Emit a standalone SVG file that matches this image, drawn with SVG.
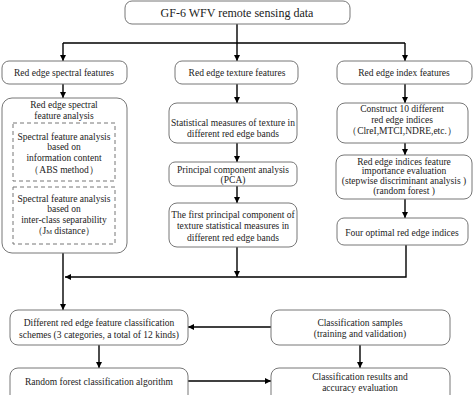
<svg xmlns="http://www.w3.org/2000/svg" width="474" height="395" viewBox="0 0 474 395">
<defs>
<marker id="ah" markerUnits="userSpaceOnUse" markerWidth="6" markerHeight="6" refX="6" refY="3" orient="auto">
<path d="M0,0 L6,3 L0,6 Z" fill="#000"/>
</marker>
<style>
.box{fill:#fff;stroke:#777;stroke-width:1}
.dash{fill:none;stroke:#777;stroke-width:1;stroke-dasharray:4,3}
.t{font-family:"Liberation Serif","Times New Roman",serif;font-size:9.5px;fill:#222;text-anchor:middle}
.title{font-size:12px}
.c{fill:none;stroke:#000;stroke-width:1.4}
.a{fill:none;stroke:#000;stroke-width:1.4;marker-end:url(#ah)}
</style>
</defs>
<rect width="474" height="395" fill="#fff"/>
<g id="connectors">
<path class="c" d="M237 24 V43 M63 43 H405"/>
<path class="a" d="M63 43 V61"/>
<path class="a" d="M237 43 V61"/>
<path class="a" d="M405 43 V61"/>
<path class="a" d="M63 84 V98"/>
<path class="a" d="M237 84 V103"/>
<path class="a" d="M237 143 V162"/>
<path class="a" d="M237 186 V203"/>
<path class="a" d="M237 247 V277"/>
<path class="a" d="M405 84 V103"/>
<path class="a" d="M405 143 V155"/>
<path class="a" d="M405 199 V218"/>
<path class="a" d="M406 245 V277 H65"/>
<path class="a" d="M63 253 V310"/>
<path class="a" d="M271 327 H188"/>
<path class="a" d="M99 345 V368"/>
<path class="a" d="M360 345 V368"/>
<path class="a" d="M188 381 H271"/>
</g>
<g id="n-top">
<rect class="box" x="125" y="1" width="225" height="23" rx="7"/>
<text class="t title" x="237" y="17">GF-6 WFV remote sensing data</text>
</g>
<g id="n-spectral">
<rect class="box" x="2" y="61" width="125" height="23" rx="7"/>
<text class="t" x="64" y="76">Red edge spectral features</text>
</g>
<g id="n-texture">
<rect class="box" x="175" y="61" width="123" height="23" rx="7"/>
<text class="t" x="237" y="76">Red edge texture features</text>
</g>
<g id="n-index">
<rect class="box" x="337" y="61" width="135" height="23" rx="7"/>
<text class="t" x="404" y="76">Red edge index features</text>
</g>
<g id="n-spectral-analysis">
<rect class="box" x="2" y="98" width="125" height="155" rx="10"/>
<text class="t" x="64" y="108">Red edge spectral</text>
<text class="t" x="64" y="119">feature analysis</text>
</g>
<g id="n-abs">
<rect class="dash" x="13" y="123" width="102" height="58"/>
<text class="t" x="64" y="140">Spectral feature analysis</text>
<text class="t" x="64" y="150">based on</text>
<text class="t" x="64" y="161">information content</text>
<text class="t" x="64" y="173">（ABS method）</text>
</g>
<g id="n-jm">
<rect class="dash" x="13" y="187" width="102" height="57"/>
<text class="t" x="64" y="202">Spectral feature analysis</text>
<text class="t" x="64" y="212">based on</text>
<text class="t" x="64" y="223">inter-class separability</text>
<text class="t" x="64" y="234">（J<tspan font-size="6.5px">M</tspan> distance）</text>
</g>
<g id="n-stat">
<rect class="box" x="169" y="103" width="128" height="40" rx="8"/>
<text class="t" x="233" y="126">Statistical measures of texture  in</text>
<text class="t" x="233" y="137">different red edge bands</text>
</g>
<g id="n-pca">
<rect class="box" x="169" y="162" width="128" height="24" rx="6"/>
<text class="t" x="233" y="173">Principal component analysis</text>
<text class="t" x="233" y="183">(PCA)</text>
</g>
<g id="n-firstpc">
<rect class="box" x="169" y="203" width="128" height="44" rx="8"/>
<text class="t" x="233" y="218">The first principal component of</text>
<text class="t" x="233" y="229">texture statistical measures in</text>
<text class="t" x="233" y="241">different red edge bands</text>
</g>
<g id="n-construct">
<rect class="box" x="337" y="103" width="131" height="40" rx="8"/>
<text class="t" x="402" y="112">Construct 10 different</text>
<text class="t" x="402" y="123">red edge indices</text>
<text class="t" x="402" y="134">（ClreI,MTCI,NDRE,etc.）</text>
</g>
<g id="n-importance">
<rect class="box" x="336" y="155" width="136" height="44" rx="8"/>
<text class="t" x="404" y="165">Red edge indices feature</text>
<text class="t" x="404" y="174">importance evaluation</text>
<text class="t" x="404" y="184">(stepwise discriminant analysis )</text>
<text class="t" x="404" y="194">(random forest )</text>
</g>
<g id="n-four">
<rect class="box" x="337" y="218" width="131" height="27" rx="7"/>
<text class="t" x="402" y="236">Four optimal red edge indices</text>
</g>
<g id="n-schemes">
<rect class="box" x="10" y="310" width="178" height="35" rx="8"/>
<text class="t" x="99" y="326">Different red edge feature classification</text>
<text class="t" x="99" y="338">schemes (3 categories, a total of 12 kinds)</text>
</g>
<g id="n-samples">
<rect class="box" x="271" y="310" width="179" height="35" rx="8"/>
<text class="t" x="360" y="326">Classification samples</text>
<text class="t" x="360" y="337">(training and validation)</text>
</g>
<g id="n-rf">
<rect class="box" x="10" y="368" width="178" height="35" rx="8"/>
<text class="t" x="99" y="385">Random forest classification algorithm</text>
</g>
<g id="n-results">
<rect class="box" x="271" y="368" width="179" height="35" rx="8"/>
<text class="t" x="360" y="380">Classification results and</text>
<text class="t" x="360" y="391">accuracy evaluation</text>
</g>
</svg>
